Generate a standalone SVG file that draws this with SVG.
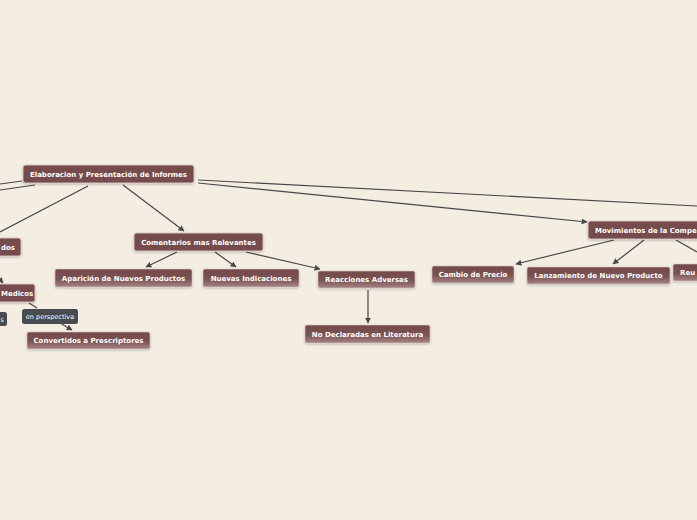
<svg xmlns="http://www.w3.org/2000/svg" width="697" height="520" viewBox="0 0 697 520">
<defs>
<style>
.bg{fill:#f3ede2}
.main{fill:#744c4c;stroke:#d9cdc8;stroke-width:0.9}
.sub{fill:url(#g);stroke:#d9cdc8;stroke-width:0.6}
.lbl{fill:#484b50}
.t{font-family:"DejaVu Sans",Verdana,sans-serif;font-weight:bold;font-size:7px;fill:#ffffff}
.lt{font-family:"DejaVu Sans",Verdana,sans-serif;font-size:6.5px;fill:#ffffff}
.c{stroke:#484848;stroke-width:1.2;fill:none}
.ca{stroke:#484848;stroke-width:1.2;fill:none;marker-end:url(#a)}
</style>
<linearGradient id="g" x1="0" y1="0" x2="0" y2="1">
<stop offset="0" stop-color="#744a4a"/>
<stop offset="0.55" stop-color="#7b5252"/>
<stop offset="1" stop-color="#a68383"/>
</linearGradient>
<filter id="sh" x="-10%" y="-30%" width="120%" height="160%">
<feDropShadow dx="0" dy="1" stdDeviation="0.8" flood-color="#000" flood-opacity="0.25"/>
</filter>
<marker id="a" viewBox="0 0 10 10" refX="9" refY="5" markerWidth="6" markerHeight="6" markerUnits="userSpaceOnUse" orient="auto">
<path d="M0,0 L10,5 L0,10 z" fill="#484848"/>
</marker>
</defs>
<rect class="bg" x="0" y="0" width="697" height="520"/>

<g id="connectors">
<line class="c" x1="22" y1="181" x2="0" y2="184"/>
<line class="c" x1="35" y1="185" x2="0" y2="190"/>
<line class="c" x1="88" y1="186" x2="0" y2="232"/>
<line class="ca" x1="123" y1="185" x2="184" y2="231"/>
<line class="c" x1="198" y1="180" x2="697" y2="206"/>
<line class="ca" x1="198" y1="183" x2="587" y2="222"/>
<line class="ca" x1="177" y1="252" x2="146" y2="267"/>
<line class="ca" x1="215" y1="252" x2="236" y2="267"/>
<line class="ca" x1="246" y1="252" x2="320" y2="269"/>
<line class="ca" x1="368" y1="290" x2="368" y2="323"/>
<line class="ca" x1="614" y1="240" x2="516" y2="264"/>
<line class="ca" x1="644" y1="240" x2="613" y2="264"/>
<line class="c" x1="676" y1="240" x2="697" y2="252"/>
<line class="ca" x1="-4" y1="275" x2="3" y2="283"/>
<line class="c" x1="29" y1="303" x2="37" y2="308"/>
<line class="ca" x1="60" y1="323" x2="72" y2="330"/>
</g>

<g id="n-main">
<rect class="main" filter="url(#sh)" x="23" y="165" width="171" height="18" rx="2.5"/>
<text class="t" x="108.5" y="176.5" text-anchor="middle">Elaboracion y Presentación de Informes</text>
</g>
<g id="n-dos">
<rect class="main" filter="url(#sh)" x="-20" y="238" width="41" height="18" rx="2.5"/>
<text class="t" x="15" y="249.5" text-anchor="end">dos</text>
</g>
<g id="n-medicos">
<rect class="main" filter="url(#sh)" x="-20" y="284" width="55" height="18" rx="2.5"/>
<text class="t" x="1" y="295.5">Medicos</text>
</g>
<g id="n-s">
<rect class="lbl" x="-20" y="312" width="27" height="14" rx="2.5"/>
<text class="lt" x="4" y="321.5" text-anchor="end">s</text>
</g>
<g id="l-perspectiva">
<rect class="lbl" x="22" y="309" width="56" height="15" rx="2.5"/>
<text class="lt" x="50" y="318.5" text-anchor="middle">en perspectiva</text>
</g>
<g id="n-convertidos">
<rect class="sub" filter="url(#sh)" x="27" y="332" width="123" height="17" rx="2"/>
<text class="t" x="88.5" y="343" text-anchor="middle">Convertidos a Prescriptores</text>
</g>
<g id="n-comentarios">
<rect class="main" filter="url(#sh)" x="134" y="233" width="129" height="18" rx="2.5"/>
<text class="t" x="198.5" y="244.5" text-anchor="middle">Comentarios mas Relevantes</text>
</g>
<g id="n-aparicion">
<rect class="sub" filter="url(#sh)" x="55" y="269" width="137" height="18" rx="2"/>
<text class="t" x="123.5" y="280.5" text-anchor="middle">Aparición de Nuevos Productos</text>
</g>
<g id="n-indicaciones">
<rect class="sub" filter="url(#sh)" x="203" y="269" width="96" height="18" rx="2"/>
<text class="t" x="251" y="280.5" text-anchor="middle">Nuevas Indicaciones</text>
</g>
<g id="n-reacciones">
<rect class="sub" filter="url(#sh)" x="318" y="271" width="97" height="17" rx="2"/>
<text class="t" x="366.5" y="282" text-anchor="middle">Reacciones Adversas</text>
</g>
<g id="n-nodeclaradas">
<rect class="sub" filter="url(#sh)" x="305" y="325" width="125" height="18" rx="2"/>
<text class="t" x="367.5" y="336.5" text-anchor="middle">No Declaradas en Literatura</text>
</g>
<g id="n-movimientos">
<rect class="main" filter="url(#sh)" x="588" y="221" width="130" height="18" rx="2.5"/>
<text class="t" x="595" y="232.5">Movimientos de la Compe</text>
</g>
<g id="n-cambio">
<rect class="sub" filter="url(#sh)" x="432" y="266" width="82" height="17" rx="2"/>
<text class="t" x="473" y="277" text-anchor="middle">Cambio de Precio</text>
</g>
<g id="n-lanzamiento">
<rect class="sub" filter="url(#sh)" x="527" y="267" width="143" height="17" rx="2"/>
<text class="t" x="598.5" y="278" text-anchor="middle">Lanzamiento de Nuevo Producto</text>
</g>
<g id="n-reu">
<rect class="sub" filter="url(#sh)" x="673" y="264" width="40" height="17" rx="2"/>
<text class="t" x="680" y="275">Reu</text>
</g>
</svg>
